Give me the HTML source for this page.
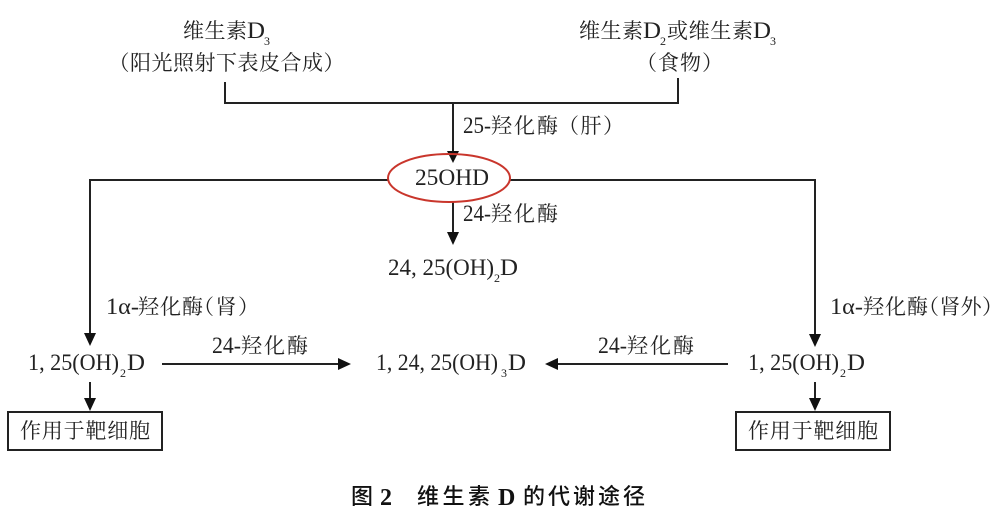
<!DOCTYPE html>
<html lang="zh">
<head>
<meta charset="utf-8">
<style>
html,body{margin:0;padding:0;background:#fff;}
svg{display:block;}
text{fill:#222;}
.l{font-family:"Liberation Serif",serif;font-size:23px;}
.c{font-family:"Liberation Serif","Noto Serif CJK SC",serif;font-size:21px;}
.s{font-family:"Liberation Serif",serif;font-size:12px;}
.tc{font-family:"Liberation Sans","Noto Sans CJK SC",sans-serif;font-size:22px;font-weight:500;fill:#111;}
.tl{font-family:"Liberation Serif",serif;font-size:24px;font-weight:700;fill:#111;}
</style>
</head>
<body>
<svg width="1000" height="523" viewBox="0 0 1000 523" xmlns="http://www.w3.org/2000/svg">
<rect width="1000" height="523" fill="#fff"/>
<g fill="none" stroke="#222" stroke-width="2">
<path d="M225 82V103H678V78"/>
<path d="M453 103V152"/>
<path d="M388 180H90V335"/>
<path d="M510 180H815V335"/>
<path d="M453 202V233"/>
<path d="M90 382V399"/>
<path d="M815 382V399"/>
<path d="M162 364H340"/>
<path d="M728 364H556"/>
<rect x="8" y="412" width="154" height="38"/>
<rect x="736" y="412" width="154" height="38"/>
</g>
<g fill="#111">
<path d="M447 151H459L453 163Z"/>
<path d="M447 232H459L453 245Z"/>
<path d="M84 333H96L90 346Z"/>
<path d="M809 334H821L815 347Z"/>
<path d="M84 398H96L90 411Z"/>
<path d="M809 398H821L815 411Z"/>
<path d="M338 358V370L351 364Z"/>
<path d="M558 358V370L545 364Z"/>
</g>
<ellipse cx="449" cy="178" rx="61" ry="24" fill="none" stroke="#c9362c" stroke-width="2"/>

<text class="c" x="183" y="38" textLength="64" lengthAdjust="spacing">维生素</text>
<text class="l" x="247" y="38" textLength="18" lengthAdjust="spacingAndGlyphs">D</text>
<text class="s" x="264" y="45">3</text>
<text class="c" x="108.5" y="70" textLength="236" lengthAdjust="spacing">（阳光照射下表皮合成）</text>

<text class="c" x="579" y="38" textLength="64" lengthAdjust="spacing">维生素</text>
<text class="l" x="643" y="38" textLength="18" lengthAdjust="spacingAndGlyphs">D</text>
<text class="s" x="660" y="45">2</text>
<text class="c" x="667" y="38" textLength="86" lengthAdjust="spacing">或维生素</text>
<text class="l" x="753" y="38" textLength="18" lengthAdjust="spacingAndGlyphs">D</text>
<text class="s" x="770" y="45">3</text>
<text class="c" x="636" y="70" textLength="87" lengthAdjust="spacing">（食物）</text>

<text class="l" x="463" y="133" textLength="28" lengthAdjust="spacingAndGlyphs">25-</text>
<text class="c" x="491" y="133" textLength="67" lengthAdjust="spacing">羟化酶</text>
<text class="c" x="558" y="133" textLength="66" lengthAdjust="spacing">（肝）</text>

<text class="l" x="415" y="185" textLength="74" lengthAdjust="spacingAndGlyphs">25OHD</text>

<text class="l" x="463" y="221" textLength="28" lengthAdjust="spacingAndGlyphs">24-</text>
<text class="c" x="491" y="221" textLength="67" lengthAdjust="spacing">羟化酶</text>

<text class="l" x="388" y="275" textLength="106" lengthAdjust="spacingAndGlyphs">24, 25(OH)</text>
<text class="s" x="494" y="282">2</text>
<text class="l" x="500" y="275" textLength="18" lengthAdjust="spacingAndGlyphs">D</text>

<text class="l" x="106" y="314" textLength="33" lengthAdjust="spacingAndGlyphs">1α-</text>
<text class="c" x="138" y="314" textLength="65" lengthAdjust="spacing">羟化酶</text>
<text class="c" x="193" y="314" textLength="66" lengthAdjust="spacing">（肾）</text>

<text class="l" x="830" y="314" textLength="33" lengthAdjust="spacingAndGlyphs">1α-</text>
<text class="c" x="863" y="314" textLength="65" lengthAdjust="spacing">羟化酶</text>
<text class="c" x="918" y="314" textLength="85" lengthAdjust="spacing">（肾外）</text>

<text class="l" x="212" y="353" textLength="29" lengthAdjust="spacingAndGlyphs">24-</text>
<text class="c" x="241" y="353" textLength="67" lengthAdjust="spacing">羟化酶</text>
<text class="l" x="598" y="353" textLength="29" lengthAdjust="spacingAndGlyphs">24-</text>
<text class="c" x="627" y="353" textLength="67" lengthAdjust="spacing">羟化酶</text>

<text class="l" x="28" y="370" textLength="91" lengthAdjust="spacingAndGlyphs">1, 25(OH)</text>
<text class="s" x="120" y="377">2</text>
<text class="l" x="127" y="370" textLength="18" lengthAdjust="spacingAndGlyphs">D</text>

<text class="l" x="376" y="370" textLength="122" lengthAdjust="spacingAndGlyphs">1, 24, 25(OH)</text>
<text class="s" x="501" y="377">3</text>
<text class="l" x="508" y="370" textLength="18" lengthAdjust="spacingAndGlyphs">D</text>

<text class="l" x="748" y="370" textLength="91" lengthAdjust="spacingAndGlyphs">1, 25(OH)</text>
<text class="s" x="840" y="377">2</text>
<text class="l" x="847" y="370" textLength="18" lengthAdjust="spacingAndGlyphs">D</text>

<text class="c" x="20" y="438" textLength="130" lengthAdjust="spacing">作用于靶细胞</text>
<text class="c" x="748" y="438" textLength="130" lengthAdjust="spacing">作用于靶细胞</text>

<text class="tc" x="351" y="504">图</text>
<text class="tl" x="380" y="505">2</text>
<text class="tc" x="417" y="504" textLength="73" lengthAdjust="spacing">维生素</text>
<text class="tl" x="498" y="505">D</text>
<text class="tc" x="523" y="504" textLength="122" lengthAdjust="spacing">的代谢途径</text>
</svg>
</body>
</html>
